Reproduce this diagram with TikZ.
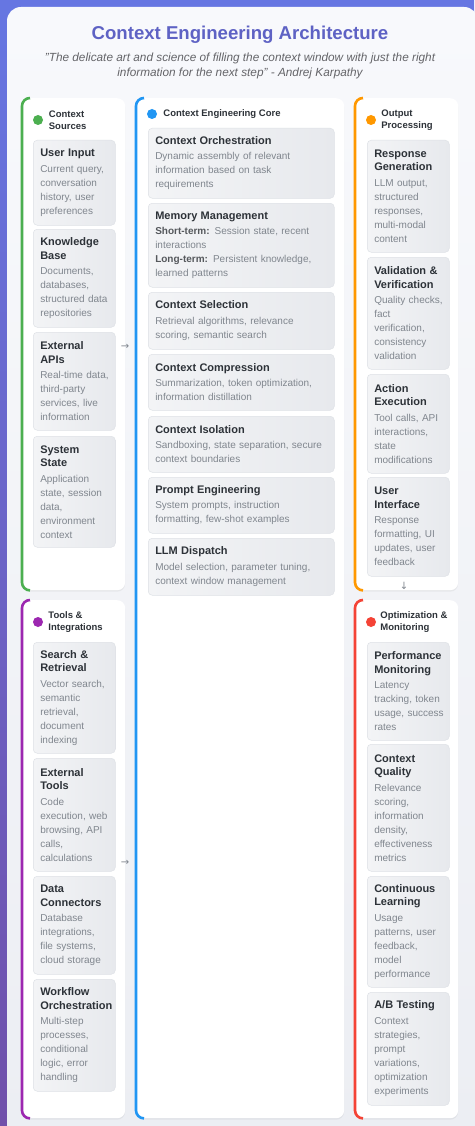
\documentclass[tikz,border=0pt]{standalone}
\usepackage{fontspec}
\setmainfont{Liberation Sans}
\newfontfamily\flechas{DejaVu Sans}
\usepackage{xcolor}
\definecolor{fondoA}{RGB}{102,118,226}
\definecolor{fondoB}{RGB}{112,80,170}
\definecolor{panelA}{RGB}{248,249,252}
\definecolor{panelB}{RGB}{236,238,243}
\definecolor{tituloAzul}{RGB}{94,98,196}
\definecolor{citaGris}{RGB}{100,100,104}
\definecolor{grisOscuro}{RGB}{45,50,56}
\definecolor{grisMedio}{RGB}{85,88,92}
\definecolor{grisTexto}{RGB}{128,134,142}
\definecolor{tarjetaA}{RGB}{243,244,246}
\definecolor{tarjetaB}{RGB}{231,233,237}
\definecolor{bordeTarjeta}{RGB}{222,225,230}
\definecolor{verde}{RGB}{76,175,80}
\definecolor{azul}{RGB}{33,150,243}
\definecolor{naranja}{RGB}{255,152,0}
\definecolor{morado}{RGB}{156,39,176}
\definecolor{rojo}{RGB}{244,67,54}
\usepackage{tikz}
\usetikzlibrary{shadows,positioning}
\setlength{\parindent}{0pt}
\tikzstyle{column}=[anchor=north west, rounded corners=8pt, fill=white,
                    inner sep=0pt, drop shadow={shadow xshift=0pt,
                    shadow yshift=-1.5pt, opacity=0.10}]
\tikzstyle{accent}=[line width=2.6pt, rounded corners=8pt]
\tikzstyle{dot}   =[circle, minimum size=10pt, inner sep=0pt]
\tikzstyle{head}  =[align=left, inner sep=0pt, text=grisOscuro,
                    font=\fontsize{9.5}{12}\selectfont\bfseries]
\tikzstyle{card}  =[anchor=north west, rounded corners=4pt,
                    draw=bordeTarjeta, line width=0.5pt,
                    left color=tarjetaA, right color=tarjetaB,
                    inner xsep=0pt, inner ysep=0pt, align=left]
\tikzstyle{narrow}=[text width=82pt]
\tikzstyle{wide}  =[text width=186pt]
\tikzstyle{arrowmark}=[text=grisTexto, inner sep=0pt,
                    font=\flechas\fontsize{10}{10}\selectfont]
\newcommand{\ttl}[1]{{\leftskip=7pt\fontsize{11}{13.5}\selectfont\bfseries\color{grisOscuro}#1\par}\vspace{1.5pt}}
\newcommand{\dsc}[1]{{\leftskip=7pt\fontsize{10}{14}\selectfont\color{grisTexto}#1\par}}
\newcommand{\lbl}[1]{{\color{grisMedio}\bfseries #1}}

\begin{document}
\begin{tikzpicture}[x=1pt,y=-1pt]
    \useasboundingbox (0,0) rectangle (474,1126);
    \shade[top color=fondoA, bottom color=fondoB] (0,0) rectangle (474,1126);
    \shade[top color=panelA, bottom color=panelB, rounded corners=14pt] (7,7) rectangle (478,1140);

    \draw (240,40) node (titulo) [anchor=base, text=tituloAzul,
        font=\fontsize{18.6}{22}\selectfont\bfseries] {Context Engineering Architecture};
    \draw (240,65.5) node (cita) [align=center, text=citaGris,
        font=\fontsize{11.8}{15}\selectfont\itshape]
        {"The delicate art and science of filling the context window with just the right\\
         information for the next step" - Andrej Karpathy};

    % columns
    \draw (22,98)   node (src)   [column, minimum width=103pt, minimum height=492pt] {};
    \draw (136,98)  node (core)  [column, minimum width=208pt, minimum height=1020pt] {};
    \draw (355,98)  node (out)   [column, minimum width=103pt, minimum height=492pt] {};
    \draw (22,600)  node (tools) [column, minimum width=103pt, minimum height=518pt] {};
    \draw (355,600) node (opt)   [column, minimum width=103pt, minimum height=518pt] {};

    \foreach \c/\col in {src/verde,core/azul,out/naranja,tools/morado,opt/rojo}
        \draw [accent,\col] ([xshift=8pt]\c.north west) -- (\c.north west)
              -- (\c.south west) -- ([xshift=8pt]\c.south west);

    % headers
    \draw (38,120)  node (srcDot)   [dot,fill=verde] {};
    \draw (152,114) node (coreDot)  [dot,fill=azul] {};
    \draw (371,120) node (outDot)   [dot,fill=naranja] {};
    \draw (38,622)  node (toolsDot) [dot,fill=morado] {};
    \draw (371,622) node (optDot)   [dot,fill=rojo] {};
    \node (srcHead)   [head, right=5.5pt of srcDot]   {Context\\Sources};
    \node (coreHead)  [head, right=6pt of coreDot]    {Context Engineering Core};
    \node (outHead)   [head, right=5pt of outDot]     {Output\\Processing};
    \node (toolsHead) [head, right=5pt of toolsDot]   {Tools \&\\Integrations};
    \node (optHead)   [head, right=4pt of optDot]     {Optimization \&\\Monitoring};

    % context sources
    \draw (33,140) node (userInput) [card,narrow,minimum height=85pt]
        {\ttl{User Input}\dsc{Current query,\\conversation\\history, user\\preferences}};
    \draw (33,229) node (knowBase) [card,narrow,minimum height=98pt]
        {\ttl{Knowledge\\Base}\dsc{Documents,\\databases,\\structured data\\repositories}};
    \draw (33,332) node (extApis) [card,narrow,minimum height=98pt]
        {\ttl{External\\APIs}\dsc{Real-time data,\\third-party\\services, live\\information}};
    \draw (33,436) node (sysState) [card,narrow,minimum height=111pt]
        {\ttl{System\\State}\dsc{Application\\state, session\\data,\\environment\\context}};

    % core
    \draw (148,128) node (ctxOrch) [card,wide,minimum height=70pt]
        {\ttl{Context Orchestration}\dsc{Dynamic assembly of relevant\\information based on task\\requirements}};
    \draw (148,203) node (memMgmt) [card,wide,minimum height=84pt]
        {\ttl{Memory Management}\dsc{\lbl{Short-term:} Session state, recent\\interactions\\
         \lbl{Long-term:} Persistent knowledge,\\learned patterns}};
    \draw (148,292) node (ctxSel) [card,wide,minimum height=57pt]
        {\ttl{Context Selection}\dsc{Retrieval algorithms, relevance\\scoring, semantic search}};
    \draw (148,354) node (ctxComp) [card,wide,minimum height=56pt]
        {\ttl{Context Compression}\dsc{Summarization, token optimization,\\information distillation}};
    \draw (148,416) node (ctxIso) [card,wide,minimum height=56pt]
        {\ttl{Context Isolation}\dsc{Sandboxing, state separation, secure\\context boundaries}};
    \draw (148,477) node (promptEng) [card,wide,minimum height=56pt]
        {\ttl{Prompt Engineering}\dsc{System prompts, instruction\\formatting, few-shot examples}};
    \draw (148,538) node (llmDisp) [card,wide,minimum height=57pt]
        {\ttl{LLM Dispatch}\dsc{Model selection, parameter tuning,\\context window management}};

    % output processing
    \draw (367,140) node (respGen) [card,narrow,minimum height=112pt]
        {\ttl{Response\\Generation}\dsc{LLM output,\\structured\\responses,\\multi-modal\\content}};
    \draw (367,257) node (validVer) [card,narrow,minimum height=112pt]
        {\ttl{Validation \&\\Verification}\dsc{Quality checks,\\fact\\verification,\\consistency\\validation}};
    \draw (367,374) node (actExec) [card,narrow,minimum height=99pt]
        {\ttl{Action\\Execution}\dsc{Tool calls, API\\interactions,\\state\\modifications}};
    \draw (367,477) node (userIface) [card,narrow,minimum height=99pt]
        {\ttl{User\\Interface}\dsc{Response\\formatting, UI\\updates, user\\feedback}};

    % tools & integrations
    \draw (33,642) node (searchRet) [card,narrow,minimum height=111pt]
        {\ttl{Search \&\\Retrieval}\dsc{Vector search,\\semantic\\retrieval,\\document\\indexing}};
    \draw (33,758) node (extTools) [card,narrow,minimum height=113pt]
        {\ttl{External\\Tools}\dsc{Code\\execution, web\\browsing, API\\calls,\\calculations}};
    \draw (33,876) node (dataConn) [card,narrow,minimum height=98pt]
        {\ttl{Data\\Connectors}\dsc{Database\\integrations,\\file systems,\\cloud storage}};
    \draw (33,979) node (workflow) [card,narrow,minimum height=112pt]
        {\ttl{Workflow\\Orchestration}\dsc{Multi-step\\processes,\\conditional\\logic, error\\handling}};

    % optimization & monitoring
    \draw (367,642) node (perfMon) [card,narrow,minimum height=98pt]
        {\ttl{Performance\\Monitoring}\dsc{Latency\\tracking, token\\usage, success\\rates}};
    \draw (367,744) node (ctxQual) [card,narrow,minimum height=127pt]
        {\ttl{Context\\Quality}\dsc{Relevance\\scoring,\\information\\density,\\effectiveness\\metrics}};
    \draw (367,876) node (contLearn) [card,narrow,minimum height=111pt]
        {\ttl{Continuous\\Learning}\dsc{Usage\\patterns, user\\feedback,\\model\\performance}};
    \draw (367,992) node (abTest) [card,narrow,minimum height=113pt]
        {\ttl{A/B Testing}\dsc{Context\\strategies,\\prompt\\variations,\\optimization\\experiments}};

    % flow marks
    \draw (125,347) node (flowSrc)   [arrowmark] {→};
    \draw (125,863) node (flowTools) [arrowmark] {→};
    \draw (404,586) node (flowOut)   [arrowmark] {↓};
\end{tikzpicture}
\end{document}
